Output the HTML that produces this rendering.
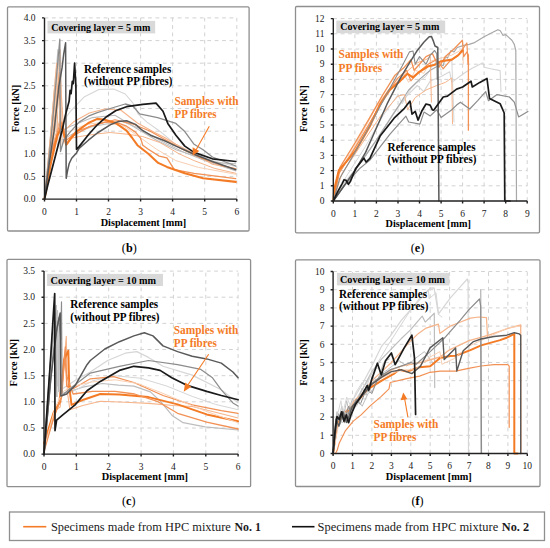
<!DOCTYPE html>
<html><head><meta charset="utf-8"><style>
html,body{margin:0;padding:0;background:#fff;width:550px;height:548px;overflow:hidden}
svg{display:block}
</style></head><body>
<svg width="550" height="548" viewBox="0 0 550 548" font-family='"Liberation Serif", serif'>
<rect width="550" height="548" fill="#fff"/>
<rect x="7.5" y="6.8" width="241.6" height="224.2" rx="1.2" fill="#fff" stroke="#8f8f8f" stroke-width="1.3"/>
<path d="M44.5 176.4H236.8 M44.5 153.8H236.8 M44.5 131.2H236.8 M44.5 108.5H236.8 M44.5 85.8H236.8 M44.5 63.2H236.8 M44.5 40.6H236.8 M44.5 17.9H236.8 M76.5 199.1V17.9 M108.5 199.1V17.9 M140.6 199.1V17.9 M172.6 199.1V17.9 M204.7 199.1V17.9 M236.8 199.1V17.9" stroke="#d2d2d2" stroke-width="1" stroke-dasharray="3.8 3.6" fill="none"/>
<polyline points="44.5,199.1 52.5,126.6 58.9,58.7 59.5,126.6 70.1,111.7 84.5,96.7 98.9,89.5 113.7,89.0 125.2,94.0 132.6,102.6 138.4,114.4 147.0,122.1 159.8,131.2 175.9,144.7 194.1,153.8 212.4,160.6 235.8,166.5" fill="none" stroke="#d6d6d6" stroke-width="1.1" stroke-linejoin="round" stroke-linecap="round" opacity="1.0"/>
<polyline points="44.5,199.1 54.1,99.4 57.9,49.6 60.5,131.2 70.1,126.6 92.5,117.6 115.0,115.3 139.6,130.2 156.6,140.2 175.9,149.7 195.1,156.1 212.4,162.4 235.8,163.8" fill="none" stroke="#bdbdbd" stroke-width="1.1" stroke-linejoin="round" stroke-linecap="round" opacity="1.0"/>
<polyline points="44.5,199.1 54.1,113.0 60.5,54.1 62.1,140.2 73.3,133.4 92.5,126.6 121.4,121.2 140.6,128.9 159.8,140.2 182.3,151.5 204.7,160.6 235.8,171.0" fill="none" stroke="#bdbdbd" stroke-width="1.0" stroke-linejoin="round" stroke-linecap="round" opacity="1.0"/>
<polyline points="44.5,199.1 50.9,131.2 55.7,72.3 57.3,144.7" fill="none" stroke="#d6d6d6" stroke-width="1.0" stroke-linejoin="round" stroke-linecap="round" opacity="1.0"/>
<polyline points="44.5,199.1 50.9,131.2 56.6,63.2 57.9,140.2" fill="none" stroke="#f6b48a" stroke-width="1.0" stroke-linejoin="round" stroke-linecap="round" opacity="1.0"/>
<polyline points="44.5,199.1 52.5,135.7 58.9,72.3 60.5,135.7" fill="none" stroke="#f29155" stroke-width="1.0" stroke-linejoin="round" stroke-linecap="round" opacity="1.0"/>
<polyline points="44.5,199.1 49.3,153.8 54.7,85.8 56.0,131.2" fill="none" stroke="#f6b48a" stroke-width="1.0" stroke-linejoin="round" stroke-linecap="round" opacity="1.0"/>
<polyline points="44.5,199.1 54.1,117.6 60.5,49.6 61.4,126.6" fill="none" stroke="#f9cfb2" stroke-width="1.0" stroke-linejoin="round" stroke-linecap="round" opacity="1.0"/>
<polyline points="44.5,199.1 54.1,140.2 60.5,117.6 65.3,137.9 70.1,138.4 79.1,136.6 97.3,133.9 110.2,132.5 128.1,134.3 142.8,136.6 159.8,142.5 179.1,153.8 194.1,160.6 214.3,168.3 235.8,173.3" fill="none" stroke="#f6b48a" stroke-width="1.0" stroke-linejoin="round" stroke-linecap="round" opacity="1.0"/>
<polyline points="44.5,199.1 55.7,113.0 60.5,81.3 63.7,131.2 73.3,122.1 89.3,113.0 104.7,109.0 121.0,110.3 137.4,123.0 153.7,132.1 164.6,137.5 175.9,144.3 194.1,153.8 212.4,164.2 235.8,168.7" fill="none" stroke="#f6b48a" stroke-width="1.1" stroke-linejoin="round" stroke-linecap="round" opacity="1.0"/>
<polyline points="44.5,199.1 52.5,144.7 58.9,99.4 62.1,144.7 70.1,131.2 86.1,124.4 105.3,122.1 124.6,126.6 140.6,137.9 156.6,149.3 175.9,160.6 198.3,167.4 235.8,174.2" fill="none" stroke="#f9cfb2" stroke-width="1.0" stroke-linejoin="round" stroke-linecap="round" opacity="1.0"/>
<polyline points="44.5,199.1 54.1,144.7 62.1,122.1 66.9,144.7 73.3,135.7 89.3,126.6 104.7,122.1 115.6,122.1 126.5,126.2 135.5,132.1 140.6,138.4 142.8,145.2 148.3,149.3 159.2,156.1 166.9,157.9 174.3,169.7 194.1,173.3 235.8,178.7" fill="none" stroke="#f29155" stroke-width="1.3" stroke-linejoin="round" stroke-linecap="round" opacity="1.0"/>
<polyline points="44.5,199.1 50.9,153.8 60.5,122.1 66.9,140.2 76.5,131.2 92.5,125.7 115.0,119.8 134.2,124.4 150.2,131.2 166.2,140.2 182.3,149.3 201.5,158.3 220.7,165.1 235.8,168.7" fill="none" stroke="#f29155" stroke-width="1.1" stroke-linejoin="round" stroke-linecap="round" opacity="1.0"/>
<polyline points="44.5,199.1 50.9,162.9 57.3,135.7 62.1,126.6 66.2,144.7 70.1,139.3 77.1,131.2 88.4,123.0 97.3,118.9 104.7,119.8 115.6,123.0 126.5,130.7 131.9,137.5 137.4,145.2 148.3,153.8 158.2,162.9 166.9,166.9 184.8,173.3 203.1,178.3 235.8,181.9" fill="none" stroke="#f47b26" stroke-width="2.1" stroke-linejoin="round" stroke-linecap="round" opacity="1.0"/>
<polyline points="44.5,199.1 50.9,140.2 57.3,67.7 59.8,39.2 60.5,151.5 63.7,140.2 70.1,132.1 79.1,122.1 88.4,116.2 97.3,112.6 110.2,108.5 125.2,104.0 132.6,105.8 139.6,113.9 157.6,117.6 175.9,123.4 184.8,131.6 194.1,144.3 203.1,149.7 212.4,157.0 235.8,166.0" fill="none" stroke="#8c8c8c" stroke-width="1.3" stroke-linejoin="round" stroke-linecap="round" opacity="1.0"/>
<polyline points="44.5,199.1 49.3,162.9 54.1,131.2 58.9,85.8 62.1,67.7 63.7,54.1 65.6,42.8 66.2,178.3 67.5,171.0 69.1,163.8 71.7,158.3 76.5,152.9 79.1,148.4 88.4,140.2 97.3,133.0 110.2,124.8 118.2,121.6 126.5,120.7 135.5,124.4 142.8,130.7 150.5,135.2 164.6,140.7 175.9,146.1 194.1,154.3 212.4,161.5 235.8,169.7" fill="none" stroke="#595959" stroke-width="1.5" stroke-linejoin="round" stroke-linecap="round" opacity="1.0"/>
<polyline points="44.5,199.1 47.7,185.5 58.2,145.2 62.1,130.7 65.6,114.4 69.1,101.3 70.1,90.4 71.1,93.6 72.3,81.3 73.3,83.6 74.6,63.2 75.9,85.8 76.5,149.3 79.1,146.6 88.4,134.8 97.3,124.8 106.6,116.7 115.6,110.8 126.5,106.7 142.8,104.4 156.0,103.1 163.0,111.2 167.8,123.4 175.9,135.2 184.8,146.1 194.1,152.4 212.4,158.8 235.8,161.5" fill="none" stroke="#1a1a1a" stroke-width="1.7" stroke-linejoin="round" stroke-linecap="round" opacity="1.0"/>
<line x1="209.3" y1="126.2" x2="196" y2="150" stroke="#f47b26" stroke-width="1.1"/>
<path d="M192.8 155.6 L192.6 147.2 L199.3 150.9 Z" fill="#f47b26"/>
<path d="M44.5 17.9V199.1H236.8 M42.0 199.1H44.5 M42.0 176.4H44.5 M42.0 153.8H44.5 M42.0 131.2H44.5 M42.0 108.5H44.5 M42.0 85.8H44.5 M42.0 63.2H44.5 M42.0 40.6H44.5 M42.0 17.9H44.5 M44.5 199.1V201.6 M76.5 199.1V201.6 M108.5 199.1V201.6 M140.6 199.1V201.6 M172.6 199.1V201.6 M204.7 199.1V201.6 M236.8 199.1V201.6" stroke="#222" stroke-width="1.4" fill="none"/>
<text x="35.50" y="202.30" font-size="9.5" font-weight="normal" text-anchor="end" fill="#1a1a1a">0.0</text>
<text x="35.50" y="179.65" font-size="9.5" font-weight="normal" text-anchor="end" fill="#1a1a1a">0.5</text>
<text x="35.50" y="157.00" font-size="9.5" font-weight="normal" text-anchor="end" fill="#1a1a1a">1.0</text>
<text x="35.50" y="134.35" font-size="9.5" font-weight="normal" text-anchor="end" fill="#1a1a1a">1.5</text>
<text x="35.50" y="111.70" font-size="9.5" font-weight="normal" text-anchor="end" fill="#1a1a1a">2.0</text>
<text x="35.50" y="89.05" font-size="9.5" font-weight="normal" text-anchor="end" fill="#1a1a1a">2.5</text>
<text x="35.50" y="66.40" font-size="9.5" font-weight="normal" text-anchor="end" fill="#1a1a1a">3.0</text>
<text x="35.50" y="43.75" font-size="9.5" font-weight="normal" text-anchor="end" fill="#1a1a1a">3.5</text>
<text x="35.50" y="21.10" font-size="9.5" font-weight="normal" text-anchor="end" fill="#1a1a1a">4.0</text>
<text x="44.45" y="214.60" font-size="9.5" font-weight="normal" text-anchor="middle" fill="#1a1a1a">0</text>
<text x="76.50" y="214.60" font-size="9.5" font-weight="normal" text-anchor="middle" fill="#1a1a1a">1</text>
<text x="108.55" y="214.60" font-size="9.5" font-weight="normal" text-anchor="middle" fill="#1a1a1a">2</text>
<text x="140.60" y="214.60" font-size="9.5" font-weight="normal" text-anchor="middle" fill="#1a1a1a">3</text>
<text x="172.65" y="214.60" font-size="9.5" font-weight="normal" text-anchor="middle" fill="#1a1a1a">4</text>
<text x="204.70" y="214.60" font-size="9.5" font-weight="normal" text-anchor="middle" fill="#1a1a1a">5</text>
<text x="236.75" y="214.60" font-size="9.5" font-weight="normal" text-anchor="middle" fill="#1a1a1a">6</text>
<rect x="47.5" y="20.9" width="107.7" height="12.5" fill="#d9d9d9"/>
<text x="51.30" y="30.70" font-size="10.2" font-weight="bold" text-anchor="start" fill="#000" textLength="99" lengthAdjust="spacingAndGlyphs">Covering layer = 5 mm</text>
<text x="84.00" y="72.50" font-size="11.6" font-weight="bold" text-anchor="start" fill="#000" textLength="87.3" lengthAdjust="spacingAndGlyphs">Reference samples</text>
<text x="84.00" y="84.60" font-size="11.6" font-weight="bold" text-anchor="start" fill="#000" textLength="88.4" lengthAdjust="spacingAndGlyphs">(without PP fibres)</text>
<text x="174.50" y="105.00" font-size="11.8" font-weight="bold" text-anchor="start" fill="#f47b26" textLength="64" lengthAdjust="spacingAndGlyphs">Samples with</text>
<text x="174.50" y="117.90" font-size="11.8" font-weight="bold" text-anchor="start" fill="#f47b26" textLength="42.1" lengthAdjust="spacingAndGlyphs">PP fibres</text>
<text x="100.70" y="226.00" font-size="10" font-weight="bold" text-anchor="start" fill="#000" textLength="85.5" lengthAdjust="spacingAndGlyphs">Displacement [mm]</text>
<text transform="translate(18.5,108.5) rotate(-90)" font-size="10.2" font-weight="bold" text-anchor="middle" textLength="47.3" lengthAdjust="spacingAndGlyphs">Force [kN]</text>
<text x="129.30" y="251.70" font-size="12.2" font-weight="normal" text-anchor="middle" fill="#000">(<tspan font-weight="bold">b</tspan>)</text>
<rect x="295.5" y="6.5" width="244.0" height="226.3" rx="1.2" fill="#fff" stroke="#8f8f8f" stroke-width="1.3"/>
<path d="M333.3 185.8H527.2 M333.3 170.6H527.2 M333.3 155.4H527.2 M333.3 140.2H527.2 M333.3 125.0H527.2 M333.3 109.8H527.2 M333.3 94.6H527.2 M333.3 79.4H527.2 M333.3 64.2H527.2 M333.3 49.0H527.2 M333.3 33.8H527.2 M333.3 18.6H527.2 M354.9 201.0V18.6 M376.4 201.0V18.6 M398.0 201.0V18.6 M419.5 201.0V18.6 M441.1 201.0V18.6 M462.6 201.0V18.6 M484.1 201.0V18.6 M505.7 201.0V18.6 M527.2 201.0V18.6" stroke="#d2d2d2" stroke-width="1" stroke-dasharray="3.8 3.6" fill="none"/>
<polyline points="333.3,201.0 344.1,182.8 359.2,164.5 376.4,140.2 393.6,112.8 406.6,96.1 417.3,85.5 423.8,91.6 430.3,80.9 441.1,76.4 449.7,71.8 451.8,82.4 463.7,73.5 471.2,68.8 482.9,62.7 484.1,67.2 490.6,68.8 500.1,70.6 501.0,91.6" fill="none" stroke="#d6d6d6" stroke-width="1.1" stroke-linejoin="round" stroke-linecap="round" opacity="1.0"/>
<polyline points="333.3,201.0 346.2,176.7 365.6,146.3 382.9,115.9 398.0,94.6 402.3,103.7 410.9,88.5 416.7,82.9 426.0,76.4 432.4,65.7 436.7,61.2 441.1,70.3 451.8,59.6 454.0,122.0" fill="none" stroke="#d6d6d6" stroke-width="1.0" stroke-linejoin="round" stroke-linecap="round" opacity="1.0"/>
<polyline points="333.3,201.0 354.9,170.6 376.4,140.2 398.0,106.8 408.7,90.0 419.5,79.4 430.3,70.3 440.6,64.5 443.2,65.7 445.4,56.6 447.5,58.1 451.0,50.5 454.0,52.0 457.2,47.5 463.7,45.4 469.1,44.4 473.8,42.9 484.1,36.8 492.8,32.3 497.9,29.7 500.3,30.8 502.9,35.3 505.7,34.6 511.9,40.3 514.3,44.4 515.8,50.5 516.5,201.0" fill="none" stroke="#a8a8a8" stroke-width="1.2" stroke-linejoin="round" stroke-linecap="round" opacity="1.0"/>
<polyline points="333.3,201.0 341.9,173.6 359.2,147.8 380.7,115.9 398.0,96.1 404.4,94.6 407.6,109.8 415.2,97.6 426.0,90.0 436.7,85.5 445.4,82.4 451.8,77.9 452.5,123.6" fill="none" stroke="#f6b48a" stroke-width="1.0" stroke-linejoin="round" stroke-linecap="round" opacity="1.0"/>
<polyline points="333.3,201.0 339.8,172.1 354.9,147.8 376.4,111.3 393.6,85.5 406.6,71.8 417.3,62.7 426.0,59.6 430.3,56.6 431.4,102.2" fill="none" stroke="#f6b48a" stroke-width="1.0" stroke-linejoin="round" stroke-linecap="round" opacity="1.0"/>
<polyline points="333.3,201.0 339.8,170.6 354.9,146.3 376.4,106.8 395.8,79.4 404.4,74.8 408.7,82.4 415.2,70.3 423.8,73.3 430.3,61.2 441.1,58.1 451.8,55.1 460.4,50.5 463.0,49.0 463.2,64.2" fill="none" stroke="#f9cfb2" stroke-width="1.0" stroke-linejoin="round" stroke-linecap="round" opacity="1.0"/>
<polyline points="333.3,201.0 339.8,167.6 354.9,143.2 369.9,117.4 382.9,94.6 394.7,75.6 404.4,67.2 410.9,59.6 414.1,70.3 419.5,64.2 426.0,56.6 432.4,53.6 438.9,67.2 445.4,56.6 454.0,49.0 462.4,40.3 463.7,56.6 466.9,52.0 468.4,55.1 468.4,130.2" fill="none" stroke="#f29155" stroke-width="1.3" stroke-linejoin="round" stroke-linecap="round" opacity="1.0"/>
<polyline points="333.3,201.0 338.7,173.6 350.5,155.4 367.8,126.5 385.0,96.1 398.0,77.9 406.6,70.3 410.9,80.9 417.3,73.3 428.1,64.2 436.7,59.6 443.2,68.8 449.7,61.2 458.3,55.1 464.8,46.0 466.9,42.9 468.0,64.2" fill="none" stroke="#f29155" stroke-width="1.1" stroke-linejoin="round" stroke-linecap="round" opacity="1.0"/>
<polyline points="333.3,201.0 334.4,188.8 338.9,170.1 346.0,162.1 355.9,150.1 369.9,126.1 380.1,104.0 389.3,90.2 400.1,81.1 407.4,73.8 413.0,77.4 419.5,71.8 427.7,66.5 435.0,64.7 441.1,61.2 451.8,59.6 458.3,55.1 462.6,50.5" fill="none" stroke="#f47b26" stroke-width="2.1" stroke-linejoin="round" stroke-linecap="round" opacity="1.0"/>
<polyline points="333.3,201.0 344.1,185.8 360.0,168.2 369.9,160.1 390.0,134.1 405.9,116.2 408.7,122.0 419.9,124.1 424.0,112.1 430.3,115.9 436.7,109.8 441.1,117.4 451.8,109.8 456.6,105.1 460.4,102.2 469.7,109.0 477.7,100.7 485.7,91.7 488.5,100.7 497.1,94.6 509.4,97.0 514.3,102.2 518.6,116.9 527.9,111.6" fill="none" stroke="#8c8c8c" stroke-width="1.2" stroke-linejoin="round" stroke-linecap="round" opacity="1.0"/>
<polyline points="333.3,201.0 339.8,178.2 354.9,152.4 367.3,130.2 380.7,105.2 394.7,79.4 402.3,65.7 409.4,51.9 413.0,51.0 415.2,64.2 419.5,56.6 426.0,64.2 430.3,55.1 434.6,50.5 436.7,53.6 437.2,79.4" fill="none" stroke="#8c8c8c" stroke-width="1.1" stroke-linejoin="round" stroke-linecap="round" opacity="1.0"/>
<polyline points="333.3,201.0 344.1,185.8 354.9,170.6 365.6,152.4 376.4,128.0 387.2,103.7 400.1,78.6 408.7,64.2 416.7,51.3 423.8,42.2 429.2,36.8 431.4,36.4 433.5,41.4 435.0,46.0 437.8,47.5 438.9,201.0" fill="none" stroke="#595959" stroke-width="1.5" stroke-linejoin="round" stroke-linecap="round" opacity="1.0"/>
<polyline points="333.3,201.0 337.6,191.9 341.9,184.1 344.1,179.7 346.0,180.2 348.4,184.3 350.5,181.2 355.9,168.2 363.9,158.1 366.1,162.1 369.9,158.4 380.1,136.1 394.1,118.2 404.4,108.3 410.0,101.1 412.0,114.1 415.2,111.3 418.0,120.1 421.7,111.3 426.0,104.0 430.1,105.1 432.4,109.8 433.9,110.1 443.2,97.0 447.5,96.1 456.6,89.1 462.6,87.0 471.0,81.2 472.3,87.0 479.8,82.4 487.0,78.5 489.5,98.4 500.1,103.7 504.2,113.0 504.8,201.0 510.0,201.0" fill="none" stroke="#1a1a1a" stroke-width="1.7" stroke-linejoin="round" stroke-linecap="round" opacity="1.0"/>
<path d="M333.3 18.6V201.0H527.2 M330.8 201.0H333.3 M330.8 185.8H333.3 M330.8 170.6H333.3 M330.8 155.4H333.3 M330.8 140.2H333.3 M330.8 125.0H333.3 M330.8 109.8H333.3 M330.8 94.6H333.3 M330.8 79.4H333.3 M330.8 64.2H333.3 M330.8 49.0H333.3 M330.8 33.8H333.3 M330.8 18.6H333.3 M333.3 201.0V203.5 M354.9 201.0V203.5 M376.4 201.0V203.5 M398.0 201.0V203.5 M419.5 201.0V203.5 M441.1 201.0V203.5 M462.6 201.0V203.5 M484.1 201.0V203.5 M505.7 201.0V203.5 M527.2 201.0V203.5" stroke="#222" stroke-width="1.4" fill="none"/>
<text x="324.40" y="204.20" font-size="9.5" font-weight="normal" text-anchor="end" fill="#1a1a1a">0</text>
<text x="324.40" y="189.00" font-size="9.5" font-weight="normal" text-anchor="end" fill="#1a1a1a">1</text>
<text x="324.40" y="173.80" font-size="9.5" font-weight="normal" text-anchor="end" fill="#1a1a1a">2</text>
<text x="324.40" y="158.60" font-size="9.5" font-weight="normal" text-anchor="end" fill="#1a1a1a">3</text>
<text x="324.40" y="143.40" font-size="9.5" font-weight="normal" text-anchor="end" fill="#1a1a1a">4</text>
<text x="324.40" y="128.20" font-size="9.5" font-weight="normal" text-anchor="end" fill="#1a1a1a">5</text>
<text x="324.40" y="113.00" font-size="9.5" font-weight="normal" text-anchor="end" fill="#1a1a1a">6</text>
<text x="324.40" y="97.80" font-size="9.5" font-weight="normal" text-anchor="end" fill="#1a1a1a">7</text>
<text x="324.40" y="82.60" font-size="9.5" font-weight="normal" text-anchor="end" fill="#1a1a1a">8</text>
<text x="324.40" y="67.40" font-size="9.5" font-weight="normal" text-anchor="end" fill="#1a1a1a">9</text>
<text x="324.40" y="52.20" font-size="9.5" font-weight="normal" text-anchor="end" fill="#1a1a1a">10</text>
<text x="324.40" y="37.00" font-size="9.5" font-weight="normal" text-anchor="end" fill="#1a1a1a">11</text>
<text x="324.40" y="21.80" font-size="9.5" font-weight="normal" text-anchor="end" fill="#1a1a1a">12</text>
<text x="333.30" y="216.50" font-size="9.5" font-weight="normal" text-anchor="middle" fill="#1a1a1a">0</text>
<text x="354.85" y="216.50" font-size="9.5" font-weight="normal" text-anchor="middle" fill="#1a1a1a">1</text>
<text x="376.40" y="216.50" font-size="9.5" font-weight="normal" text-anchor="middle" fill="#1a1a1a">2</text>
<text x="397.95" y="216.50" font-size="9.5" font-weight="normal" text-anchor="middle" fill="#1a1a1a">3</text>
<text x="419.50" y="216.50" font-size="9.5" font-weight="normal" text-anchor="middle" fill="#1a1a1a">4</text>
<text x="441.05" y="216.50" font-size="9.5" font-weight="normal" text-anchor="middle" fill="#1a1a1a">5</text>
<text x="462.60" y="216.50" font-size="9.5" font-weight="normal" text-anchor="middle" fill="#1a1a1a">6</text>
<text x="484.15" y="216.50" font-size="9.5" font-weight="normal" text-anchor="middle" fill="#1a1a1a">7</text>
<text x="505.70" y="216.50" font-size="9.5" font-weight="normal" text-anchor="middle" fill="#1a1a1a">8</text>
<text x="527.25" y="216.50" font-size="9.5" font-weight="normal" text-anchor="middle" fill="#1a1a1a">9</text>
<rect x="336.3" y="20.6" width="108.9" height="12.6" fill="#d9d9d9"/>
<text x="340.30" y="30.40" font-size="10.2" font-weight="bold" text-anchor="start" fill="#000" textLength="99" lengthAdjust="spacingAndGlyphs">Covering layer = 5 mm</text>
<text x="338.60" y="58.40" font-size="11.8" font-weight="bold" text-anchor="start" fill="#f47b26" textLength="64.8" lengthAdjust="spacingAndGlyphs">Samples with</text>
<text x="338.60" y="71.90" font-size="11.8" font-weight="bold" text-anchor="start" fill="#f47b26" textLength="43.7" lengthAdjust="spacingAndGlyphs">PP fibres</text>
<text x="387.60" y="150.60" font-size="11.6" font-weight="bold" text-anchor="start" fill="#000" textLength="88" lengthAdjust="spacingAndGlyphs">Reference samples</text>
<text x="387.60" y="162.70" font-size="11.6" font-weight="bold" text-anchor="start" fill="#000" textLength="88.8" lengthAdjust="spacingAndGlyphs">(without PP fibres)</text>
<text x="385.60" y="226.60" font-size="10" font-weight="bold" text-anchor="start" fill="#000" textLength="85.3" lengthAdjust="spacingAndGlyphs">Displacement [mm]</text>
<text transform="translate(306.8,108.6) rotate(-90)" font-size="10.2" font-weight="bold" text-anchor="middle" textLength="46.7" lengthAdjust="spacingAndGlyphs">Force [kN]</text>
<text x="417.50" y="251.70" font-size="12.2" font-weight="normal" text-anchor="middle" fill="#000">(<tspan font-weight="bold">e</tspan>)</text>
<rect x="7" y="259.4" width="243.6" height="227.2" rx="1.2" fill="#fff" stroke="#8f8f8f" stroke-width="1.3"/>
<path d="M44.0 428.0H238.1 M44.0 401.8H238.1 M44.0 375.7H238.1 M44.0 349.5H238.1 M44.0 323.4H238.1 M44.0 297.2H238.1 M44.0 271.1H238.1 M76.3 454.1V271.1 M108.7 454.1V271.1 M141.1 454.1V271.1 M173.4 454.1V271.1 M205.8 454.1V271.1 M238.1 454.1V271.1" stroke="#d2d2d2" stroke-width="1" stroke-dasharray="3.8 3.6" fill="none"/>
<polyline points="44.0,454.1 50.5,375.7 56.3,312.9 58.6,391.4 66.6,386.1 76.3,379.8 90.3,372.0 107.7,360.5 125.2,353.2 136.8,351.6 148.5,357.4 163.0,366.3 192.2,375.1 221.3,389.8 238.1,402.9" fill="none" stroke="#d6d6d6" stroke-width="1.2" stroke-linejoin="round" stroke-linecap="round" opacity="1.0"/>
<polyline points="44.0,454.1 52.1,360.0 57.6,318.1 59.5,394.0 69.9,391.4 82.8,387.2 102.2,383.5 118.4,385.1 133.9,386.1 150.4,391.9 161.4,402.3 172.1,415.4 183.1,422.7 205.1,426.9 238.1,430.0" fill="none" stroke="#bdbdbd" stroke-width="1.2" stroke-linejoin="round" stroke-linecap="round" opacity="1.0"/>
<polyline points="44.0,454.1 53.7,339.1 58.6,323.4 60.2,396.6 73.1,391.4 92.5,380.9 115.2,375.7 141.1,378.3 166.9,386.1 192.8,396.6 215.5,404.4 238.1,409.7" fill="none" stroke="#d6d6d6" stroke-width="1.0" stroke-linejoin="round" stroke-linecap="round" opacity="1.0"/>
<polyline points="44.0,448.9 50.5,428.0 56.0,409.7 60.2,407.0 63.4,370.4 66.3,336.4 67.3,391.4 69.9,409.7 82.8,405.5 100.3,401.3 124.9,402.3 148.5,403.4 173.4,405.5 192.2,406.5 215.5,412.3 238.1,418.0" fill="none" stroke="#f6b48a" stroke-width="1.1" stroke-linejoin="round" stroke-linecap="round" opacity="1.0"/>
<polyline points="44.0,446.3 52.1,422.7 58.6,404.4 63.4,365.2 65.4,346.9 66.6,386.1 73.1,388.7 90.3,378.8 113.6,376.7 133.9,382.5 163.0,395.5 192.2,404.9 221.3,410.7 238.1,413.3" fill="none" stroke="#f29155" stroke-width="1.2" stroke-linejoin="round" stroke-linecap="round" opacity="1.0"/>
<polyline points="44.0,443.6 53.7,412.3 60.2,401.8 64.1,360.0 68.3,350.6 69.2,386.1 71.5,404.9 83.5,399.7 100.3,394.0 119.4,394.5 148.5,397.1 177.6,404.4 206.7,414.4 238.1,421.2" fill="none" stroke="#f47b26" stroke-width="2.0" stroke-linejoin="round" stroke-linecap="round" opacity="1.0"/>
<polyline points="44.0,451.5 53.7,417.5 61.8,396.6 64.7,354.7 66.6,375.7 73.1,394.0 92.5,391.4 115.2,391.4 134.6,394.0 157.2,401.3 177.6,413.3 206.7,422.2 238.1,429.0" fill="none" stroke="#f29155" stroke-width="1.3" stroke-linejoin="round" stroke-linecap="round" opacity="1.0"/>
<polyline points="44.0,448.9 55.3,407.0 63.4,391.4 73.1,386.1 92.5,381.9 115.2,379.8 137.8,383.5 160.5,392.4 183.1,401.8 205.8,411.2 238.1,422.7" fill="none" stroke="#f9cfb2" stroke-width="1.0" stroke-linejoin="round" stroke-linecap="round" opacity="1.0"/>
<polyline points="44.0,454.1 52.1,333.8 57.6,310.3 58.6,391.4" fill="none" stroke="#bdbdbd" stroke-width="1.0" stroke-linejoin="round" stroke-linecap="round" opacity="1.0"/>
<polyline points="44.0,454.1 53.7,328.6 59.5,315.5 60.2,391.4" fill="none" stroke="#d6d6d6" stroke-width="1.1" stroke-linejoin="round" stroke-linecap="round" opacity="1.0"/>
<polyline points="44.0,454.1 50.5,360.0 55.6,320.8 56.9,396.6" fill="none" stroke="#8c8c8c" stroke-width="1.0" stroke-linejoin="round" stroke-linecap="round" opacity="1.0"/>
<polyline points="44.0,454.1 48.9,380.9 53.7,333.8 56.3,305.1 57.3,386.1" fill="none" stroke="#bdbdbd" stroke-width="1.0" stroke-linejoin="round" stroke-linecap="round" opacity="1.0"/>
<polyline points="44.0,454.1 53.7,349.5 58.6,318.1 60.8,339.1 61.5,301.9 62.1,395.5 69.9,388.7 90.3,373.1 119.4,366.3 148.5,360.5 177.6,364.7 200.9,369.4 212.5,377.8 221.3,389.8 232.9,402.9 238.1,406.0" fill="none" stroke="#8c8c8c" stroke-width="1.2" stroke-linejoin="round" stroke-linecap="round" opacity="1.0"/>
<polyline points="44.0,454.1 50.5,380.9 56.9,328.6 60.2,312.9 60.8,396.1 66.6,394.0 75.1,385.6 87.0,364.7 90.3,360.5 104.8,349.0 119.4,341.7 133.9,335.9 144.3,332.8 153.0,335.9 163.0,345.9 177.6,351.6 192.2,356.3 206.7,358.9 221.3,363.1 232.9,372.0 238.1,377.8" fill="none" stroke="#595959" stroke-width="1.5" stroke-linejoin="round" stroke-linecap="round" opacity="1.0"/>
<polyline points="44.0,454.1 47.2,407.0 50.5,360.0 53.1,318.1 54.7,293.6 55.0,430.6 56.6,420.1 62.8,414.9 75.1,404.9 87.0,390.8 100.3,381.4 119.4,370.4 133.9,366.3 148.5,367.8 160.1,370.4 171.8,377.8 186.3,385.1 206.7,391.4 221.3,395.5 238.1,399.7" fill="none" stroke="#1a1a1a" stroke-width="1.7" stroke-linejoin="round" stroke-linecap="round" opacity="1.0"/>
<line x1="208.7" y1="354.3" x2="187.5" y2="385.5" stroke="#f47b26" stroke-width="1.1"/>
<path d="M183.7 391.8 L185.2 382.6 L191.3 386.8 Z" fill="#f47b26"/>
<path d="M44.0 271.1V454.1H238.1 M41.5 454.1H44.0 M41.5 428.0H44.0 M41.5 401.8H44.0 M41.5 375.7H44.0 M41.5 349.5H44.0 M41.5 323.4H44.0 M41.5 297.2H44.0 M41.5 271.1H44.0 M44.0 454.1V456.6 M76.3 454.1V456.6 M108.7 454.1V456.6 M141.1 454.1V456.6 M173.4 454.1V456.6 M205.8 454.1V456.6 M238.1 454.1V456.6" stroke="#222" stroke-width="1.4" fill="none"/>
<text x="35.00" y="457.30" font-size="9.5" font-weight="normal" text-anchor="end" fill="#1a1a1a">0.0</text>
<text x="35.00" y="431.16" font-size="9.5" font-weight="normal" text-anchor="end" fill="#1a1a1a">0.5</text>
<text x="35.00" y="405.01" font-size="9.5" font-weight="normal" text-anchor="end" fill="#1a1a1a">1.0</text>
<text x="35.00" y="378.87" font-size="9.5" font-weight="normal" text-anchor="end" fill="#1a1a1a">1.5</text>
<text x="35.00" y="352.72" font-size="9.5" font-weight="normal" text-anchor="end" fill="#1a1a1a">2.0</text>
<text x="35.00" y="326.57" font-size="9.5" font-weight="normal" text-anchor="end" fill="#1a1a1a">2.5</text>
<text x="35.00" y="300.43" font-size="9.5" font-weight="normal" text-anchor="end" fill="#1a1a1a">3.0</text>
<text x="35.00" y="274.29" font-size="9.5" font-weight="normal" text-anchor="end" fill="#1a1a1a">3.5</text>
<text x="44.00" y="469.60" font-size="9.5" font-weight="normal" text-anchor="middle" fill="#1a1a1a">0</text>
<text x="76.35" y="469.60" font-size="9.5" font-weight="normal" text-anchor="middle" fill="#1a1a1a">1</text>
<text x="108.70" y="469.60" font-size="9.5" font-weight="normal" text-anchor="middle" fill="#1a1a1a">2</text>
<text x="141.05" y="469.60" font-size="9.5" font-weight="normal" text-anchor="middle" fill="#1a1a1a">3</text>
<text x="173.40" y="469.60" font-size="9.5" font-weight="normal" text-anchor="middle" fill="#1a1a1a">4</text>
<text x="205.75" y="469.60" font-size="9.5" font-weight="normal" text-anchor="middle" fill="#1a1a1a">5</text>
<text x="238.10" y="469.60" font-size="9.5" font-weight="normal" text-anchor="middle" fill="#1a1a1a">6</text>
<rect x="47.1" y="273.9" width="115.9" height="12.1" fill="#d9d9d9"/>
<text x="50.60" y="283.90" font-size="10.2" font-weight="bold" text-anchor="start" fill="#000" textLength="105.5" lengthAdjust="spacingAndGlyphs">Covering layer = 10 mm</text>
<text x="70.30" y="308.30" font-size="11.6" font-weight="bold" text-anchor="start" fill="#000" textLength="87.9" lengthAdjust="spacingAndGlyphs">Reference samples</text>
<text x="70.30" y="320.90" font-size="11.6" font-weight="bold" text-anchor="start" fill="#000" textLength="89.1" lengthAdjust="spacingAndGlyphs">(without PP fibres)</text>
<text x="173.80" y="333.50" font-size="11.8" font-weight="bold" text-anchor="start" fill="#f47b26" textLength="64.6" lengthAdjust="spacingAndGlyphs">Samples with</text>
<text x="173.80" y="346.70" font-size="11.8" font-weight="bold" text-anchor="start" fill="#f47b26" textLength="43" lengthAdjust="spacingAndGlyphs">PP fibres</text>
<text x="101.80" y="480.10" font-size="10" font-weight="bold" text-anchor="start" fill="#000" textLength="86.2" lengthAdjust="spacingAndGlyphs">Displacement [mm]</text>
<text transform="translate(17.3,362.7) rotate(-90)" font-size="10.2" font-weight="bold" text-anchor="middle" textLength="47.4" lengthAdjust="spacingAndGlyphs">Force [kN]</text>
<text x="128.70" y="504.50" font-size="12.2" font-weight="normal" text-anchor="middle" fill="#000">(<tspan font-weight="bold">c</tspan>)</text>
<rect x="295.5" y="259.8" width="244.5" height="226.7" rx="1.2" fill="#fff" stroke="#8f8f8f" stroke-width="1.3"/>
<path d="M333.1 435.3H527.3 M333.1 417.1H527.3 M333.1 398.9H527.3 M333.1 380.7H527.3 M333.1 362.5H527.3 M333.1 344.3H527.3 M333.1 326.1H527.3 M333.1 307.9H527.3 M333.1 289.7H527.3 M333.1 271.5H527.3 M352.5 453.5V271.5 M371.9 453.5V271.5 M391.4 453.5V271.5 M410.8 453.5V271.5 M430.2 453.5V271.5 M449.6 453.5V271.5 M469.0 453.5V271.5 M488.5 453.5V271.5 M507.9 453.5V271.5 M527.3 453.5V271.5" stroke="#d2d2d2" stroke-width="1" stroke-dasharray="3.8 3.6" fill="none"/>
<polyline points="333.1,453.5 336.0,420.7 338.9,424.4 342.8,409.8 346.7,417.1 352.5,400.7 362.2,384.3 371.9,366.1 381.7,346.1 390.2,336.1 401.1,320.6 410.2,310.1 420.5,298.8 430.2,288.1 434.1,287.9 438.4,314.1 450.2,298.1 459.3,287.9 467.3,279.0 468.1,282.4 468.5,453.5" fill="none" stroke="#d6d6d6" stroke-width="1.2" stroke-linejoin="round" stroke-linecap="round" opacity="1.0"/>
<polyline points="333.1,453.5 337.0,417.1 340.9,422.6 344.8,409.8 350.6,413.5 358.3,395.3 368.1,380.7 377.8,362.5 387.5,346.1 399.1,327.9 410.8,309.7 420.5,297.0 428.3,289.7 429.2,298.8 436.0,292.6 438.6,314.5 441.9,317.0" fill="none" stroke="#d6d6d6" stroke-width="1.0" stroke-linejoin="round" stroke-linecap="round" opacity="1.0"/>
<polyline points="333.1,453.5 337.0,418.9 339.9,422.6 344.8,413.5 352.5,408.0 362.2,389.8 371.9,371.6 381.7,358.9 390.2,350.1 401.1,338.8 410.2,330.1 422.2,316.1 425.2,322.1 434.3,313.2 434.7,387.6" fill="none" stroke="#bdbdbd" stroke-width="1.2" stroke-linejoin="round" stroke-linecap="round" opacity="1.0"/>
<polyline points="333.1,453.5 338.9,418.9 342.8,422.6 348.6,411.6 356.4,406.2 368.1,386.2 371.9,391.6 379.7,375.2 387.5,369.8 399.1,360.7 406.9,366.1 414.7,358.9 424.4,351.6 434.1,364.3" fill="none" stroke="#bdbdbd" stroke-width="1.0" stroke-linejoin="round" stroke-linecap="round" opacity="1.0"/>
<polyline points="480.7,289.7 481.1,453.5" fill="none" stroke="#bdbdbd" stroke-width="1.4" stroke-linejoin="round" stroke-linecap="round" opacity="1.0"/>
<polyline points="333.1,453.5 335.4,453.5 337.0,450.8 339.3,442.9 345.5,430.6 353.3,421.1 361.1,414.9 370.4,405.6 381.3,396.4 389.0,388.9 390.2,382.5 406.7,378.7 419.5,376.1 430.0,372.3 440.1,371.1 455.6,371.1 468.5,368.3 481.1,366.0 493.9,364.7 507.9,364.7 509.2,366.1 509.2,427.3" fill="none" stroke="#f29155" stroke-width="1.2" stroke-linejoin="round" stroke-linecap="round" opacity="1.0"/>
<polyline points="333.1,453.5 337.0,426.2 342.8,417.1 352.5,404.4 362.2,393.4 371.9,380.7 381.7,371.6 391.4,362.5 401.1,351.6 410.8,340.7 418.5,333.4 426.1,328.1 438.4,324.1 439.9,333.4 450.2,326.1 459.3,322.5 470.4,318.1 478.8,317.0 486.5,317.7 487.5,337.0" fill="none" stroke="#f6b48a" stroke-width="1.2" stroke-linejoin="round" stroke-linecap="round" opacity="1.0"/>
<polyline points="333.1,453.5 337.0,424.4 342.8,415.3 352.5,402.5 362.2,393.4 371.9,384.3 381.7,377.1 391.4,369.8 401.1,366.1 410.8,364.3 420.5,362.5 440.1,357.0 449.6,349.8 469.0,340.7 488.8,335.2 506.7,328.8 520.7,325.0 521.1,453.5" fill="none" stroke="#f6b48a" stroke-width="1.3" stroke-linejoin="round" stroke-linecap="round" opacity="1.0"/>
<polyline points="333.1,453.5 337.0,424.4 344.8,413.5 352.5,406.2 368.4,388.9 381.7,380.7 394.1,373.6 399.1,369.8 406.9,371.6 419.5,367.2 430.2,366.3 440.1,358.1 450.2,356.1 455.6,355.8 470.4,350.1 481.1,345.4 500.1,340.1 506.7,337.7 514.3,333.9 514.3,453.5 517.6,453.5" fill="none" stroke="#f47b26" stroke-width="2.0" stroke-linejoin="round" stroke-linecap="round" opacity="1.0"/>
<polyline points="333.1,453.5 338.9,422.6 346.7,411.6 356.4,400.7 368.1,388.0 379.7,378.9 391.4,373.4 403.0,369.8 414.7,369.8 430.2,357.0 439.9,351.6 441.9,364.3 453.5,358.9 469.0,346.1 488.5,337.0 507.9,327.9 519.5,326.1" fill="none" stroke="#f9cfb2" stroke-width="1.0" stroke-linejoin="round" stroke-linecap="round" opacity="1.0"/>
<polyline points="333.1,453.5 335.0,426.2 337.0,411.6 338.9,418.9 341.8,406.2 343.8,415.3 346.7,400.7 348.6,409.8 352.5,398.9 356.4,404.4 362.2,388.0 366.1,395.3 371.9,377.1 377.8,380.7 383.6,362.5 389.4,358.9" fill="none" stroke="#bdbdbd" stroke-width="1.0" stroke-linejoin="round" stroke-linecap="round" opacity="1.0"/>
<polyline points="333.1,453.5 336.0,422.6 338.0,413.5 339.9,424.4 342.8,409.8 344.8,418.9 348.6,406.2 351.5,413.5 356.4,398.9 360.3,404.4 366.1,389.8 371.9,393.4 377.8,378.9 383.6,373.4" fill="none" stroke="#8c8c8c" stroke-width="1.0" stroke-linejoin="round" stroke-linecap="round" opacity="1.0"/>
<polyline points="333.1,453.5 337.0,417.1 340.9,400.7 342.8,413.5 346.7,397.1 350.6,406.2 356.4,391.6 362.2,382.5 366.1,388.0 371.9,371.6 377.8,368.0" fill="none" stroke="#d6d6d6" stroke-width="1.0" stroke-linejoin="round" stroke-linecap="round" opacity="1.0"/>
<polyline points="333.1,453.5 335.0,435.3 338.9,415.3 340.9,422.6 344.8,411.6 347.7,420.7 352.5,409.8 358.3,400.7 362.2,406.2 368.1,393.4 373.9,389.8" fill="none" stroke="#bdbdbd" stroke-width="1.0" stroke-linejoin="round" stroke-linecap="round" opacity="1.0"/>
<polyline points="333.1,453.5 337.0,420.7 340.9,413.5 344.8,422.6 350.6,408.0 358.3,398.9 368.1,386.2 379.7,377.1 390.2,369.8 401.1,366.1 410.8,362.5 416.2,364.3 430.2,351.6 444.2,338.3 460.3,320.1 469.0,309.7 479.5,299.0 480.7,306.1 481.5,453.5" fill="none" stroke="#8c8c8c" stroke-width="1.2" stroke-linejoin="round" stroke-linecap="round" opacity="1.0"/>
<polyline points="333.1,453.5 336.0,418.9 338.9,426.2 342.8,411.6 346.7,422.6 352.5,406.2 362.2,395.3 371.9,384.3 381.7,377.1 391.4,371.6 401.7,369.8 411.9,373.6 420.5,366.1 430.0,347.9 442.8,337.7 444.2,359.6 455.6,347.9 456.8,371.1 463.2,350.7 473.5,341.6 481.1,339.0 493.9,336.5 506.7,335.2 514.3,332.7 519.3,333.9 520.7,335.2 520.7,453.5" fill="none" stroke="#595959" stroke-width="1.4" stroke-linejoin="round" stroke-linecap="round" opacity="1.0"/>
<polyline points="333.1,453.5 335.0,431.7 337.0,416.6 339.3,419.6 341.6,411.8 344.0,421.3 346.3,414.9 348.6,422.7 351.0,414.9 355.6,404.2 361.1,396.4 367.3,385.4 368.8,390.2 371.9,378.9 377.4,363.2 381.3,374.9 385.5,360.7 391.4,353.0 395.2,364.7 404.2,347.9 411.9,335.2 414.5,358.1 415.6,414.4" fill="none" stroke="#1a1a1a" stroke-width="1.7" stroke-linejoin="round" stroke-linecap="round" opacity="1.0"/>
<line x1="407.9" y1="417.1" x2="404.6" y2="398.5" stroke="#f47b26" stroke-width="1.1"/>
<path d="M403.3 392.4 L400.6 400.3 L407.4 399.2 Z" fill="#f47b26"/>
<path d="M333.1 271.5V453.5H527.3 M330.6 453.5H333.1 M330.6 435.3H333.1 M330.6 417.1H333.1 M330.6 398.9H333.1 M330.6 380.7H333.1 M330.6 362.5H333.1 M330.6 344.3H333.1 M330.6 326.1H333.1 M330.6 307.9H333.1 M330.6 289.7H333.1 M330.6 271.5H333.1 M333.1 453.5V456.0 M352.5 453.5V456.0 M371.9 453.5V456.0 M391.4 453.5V456.0 M410.8 453.5V456.0 M430.2 453.5V456.0 M449.6 453.5V456.0 M469.0 453.5V456.0 M488.5 453.5V456.0 M507.9 453.5V456.0 M527.3 453.5V456.0" stroke="#222" stroke-width="1.4" fill="none"/>
<text x="324.50" y="456.70" font-size="9.5" font-weight="normal" text-anchor="end" fill="#1a1a1a">0</text>
<text x="324.50" y="438.50" font-size="9.5" font-weight="normal" text-anchor="end" fill="#1a1a1a">1</text>
<text x="324.50" y="420.30" font-size="9.5" font-weight="normal" text-anchor="end" fill="#1a1a1a">2</text>
<text x="324.50" y="402.10" font-size="9.5" font-weight="normal" text-anchor="end" fill="#1a1a1a">3</text>
<text x="324.50" y="383.90" font-size="9.5" font-weight="normal" text-anchor="end" fill="#1a1a1a">4</text>
<text x="324.50" y="365.70" font-size="9.5" font-weight="normal" text-anchor="end" fill="#1a1a1a">5</text>
<text x="324.50" y="347.50" font-size="9.5" font-weight="normal" text-anchor="end" fill="#1a1a1a">6</text>
<text x="324.50" y="329.30" font-size="9.5" font-weight="normal" text-anchor="end" fill="#1a1a1a">7</text>
<text x="324.50" y="311.10" font-size="9.5" font-weight="normal" text-anchor="end" fill="#1a1a1a">8</text>
<text x="324.50" y="292.90" font-size="9.5" font-weight="normal" text-anchor="end" fill="#1a1a1a">9</text>
<text x="324.50" y="274.70" font-size="9.5" font-weight="normal" text-anchor="end" fill="#1a1a1a">10</text>
<text x="333.10" y="469.00" font-size="9.5" font-weight="normal" text-anchor="middle" fill="#1a1a1a">0</text>
<text x="352.52" y="469.00" font-size="9.5" font-weight="normal" text-anchor="middle" fill="#1a1a1a">1</text>
<text x="371.94" y="469.00" font-size="9.5" font-weight="normal" text-anchor="middle" fill="#1a1a1a">2</text>
<text x="391.36" y="469.00" font-size="9.5" font-weight="normal" text-anchor="middle" fill="#1a1a1a">3</text>
<text x="410.78" y="469.00" font-size="9.5" font-weight="normal" text-anchor="middle" fill="#1a1a1a">4</text>
<text x="430.20" y="469.00" font-size="9.5" font-weight="normal" text-anchor="middle" fill="#1a1a1a">5</text>
<text x="449.62" y="469.00" font-size="9.5" font-weight="normal" text-anchor="middle" fill="#1a1a1a">6</text>
<text x="469.04" y="469.00" font-size="9.5" font-weight="normal" text-anchor="middle" fill="#1a1a1a">7</text>
<text x="488.46" y="469.00" font-size="9.5" font-weight="normal" text-anchor="middle" fill="#1a1a1a">8</text>
<text x="507.88" y="469.00" font-size="9.5" font-weight="normal" text-anchor="middle" fill="#1a1a1a">9</text>
<text x="527.30" y="469.00" font-size="9.5" font-weight="normal" text-anchor="middle" fill="#1a1a1a">10</text>
<rect x="337" y="272.9" width="112.4" height="12.5" fill="#d9d9d9"/>
<text x="340.00" y="282.60" font-size="10.2" font-weight="bold" text-anchor="start" fill="#000" textLength="105.1" lengthAdjust="spacingAndGlyphs">Covering layer = 10 mm</text>
<text x="339.00" y="297.60" font-size="11.6" font-weight="bold" text-anchor="start" fill="#000" textLength="88" lengthAdjust="spacingAndGlyphs">Reference samples</text>
<text x="339.00" y="310.10" font-size="11.6" font-weight="bold" text-anchor="start" fill="#000" textLength="89.4" lengthAdjust="spacingAndGlyphs">(without PP fibres)</text>
<text x="373.60" y="427.70" font-size="11.8" font-weight="bold" text-anchor="start" fill="#f47b26" textLength="64.8" lengthAdjust="spacingAndGlyphs">Samples with</text>
<text x="373.60" y="441.30" font-size="11.8" font-weight="bold" text-anchor="start" fill="#f47b26" textLength="42.7" lengthAdjust="spacingAndGlyphs">PP fibres</text>
<text x="385.70" y="479.90" font-size="10" font-weight="bold" text-anchor="start" fill="#000" textLength="86.1" lengthAdjust="spacingAndGlyphs">Displacement [mm]</text>
<text transform="translate(306.6,362.4) rotate(-90)" font-size="10.2" font-weight="bold" text-anchor="middle" textLength="46.7" lengthAdjust="spacingAndGlyphs">Force [kN]</text>
<text x="417.50" y="504.50" font-size="12.2" font-weight="normal" text-anchor="middle" fill="#000">(<tspan font-weight="bold">f</tspan>)</text>
<rect x="9.5" y="512" width="535" height="28.5" fill="#fff" stroke="#8f8f8f" stroke-width="1.3"/>
<line x1="23.2" y1="526.7" x2="46.3" y2="526.7" stroke="#f47b26" stroke-width="1.6"/>
<line x1="292" y1="526.7" x2="314.5" y2="526.7" stroke="#111" stroke-width="1.6"/>
<text x="50.90" y="531.00" font-size="12" font-weight="normal" text-anchor="start" fill="#1a1a1a" textLength="180" lengthAdjust="spacingAndGlyphs">Specimens made from HPC mixture</text>
<text x="234.50" y="531.00" font-size="12" font-weight="bold" text-anchor="start" fill="#1a1a1a" textLength="26.4" lengthAdjust="spacingAndGlyphs">No. 1</text>
<text x="317.50" y="531.00" font-size="12" font-weight="normal" text-anchor="start" fill="#1a1a1a" textLength="180.7" lengthAdjust="spacingAndGlyphs">Specimens made from HPC mixture</text>
<text x="501.80" y="531.00" font-size="12" font-weight="bold" text-anchor="start" fill="#1a1a1a" textLength="27.3" lengthAdjust="spacingAndGlyphs">No. 2</text>
</svg>
</body></html>
